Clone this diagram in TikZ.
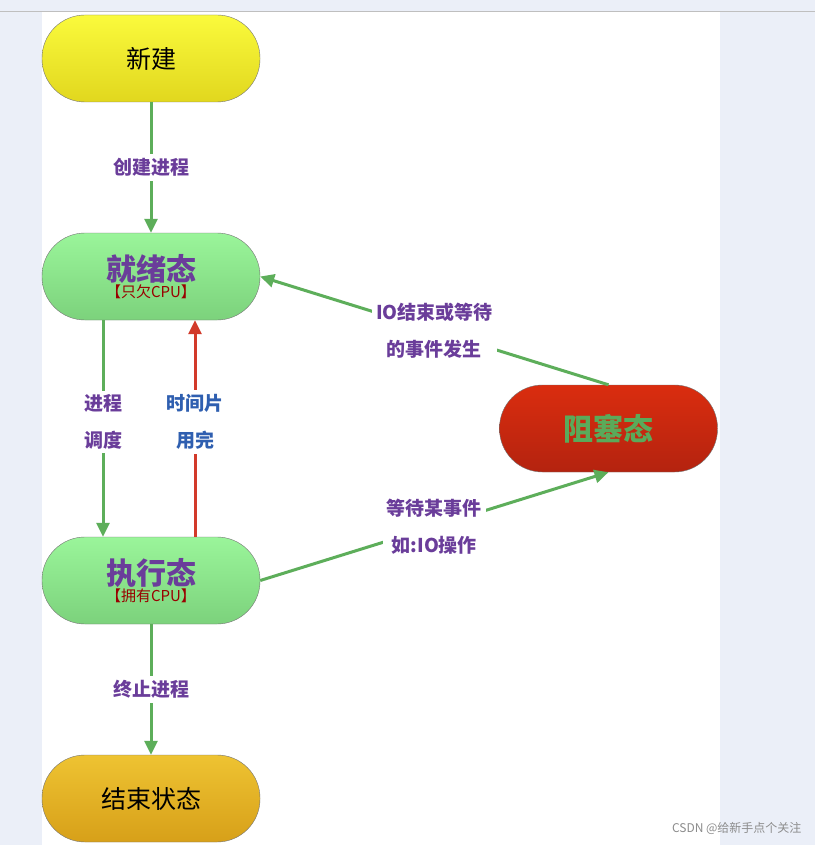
\documentclass[tikz,border=0pt]{standalone}
\usepackage{fontspec}
\setmainfont{Noto Sans CJK SC}
\usetikzlibrary{arrows.meta}
\definecolor{bgc}{HTML}{EBEFF8}
\definecolor{lblc}{HTML}{6A3D9A}
\definecolor{bluec}{HTML}{2F5FB0}
\definecolor{grn}{HTML}{5DAE5A}
\definecolor{redl}{HTML}{D23A2A}
\tikzset{
 st/.style={draw=black!55, rounded corners=43pt, minimum width=218pt, minimum height=87pt, inner sep=0pt, align=center},
 grfill/.style={top color=HTML9AF59A, bottom color=HTML7CD27C},
 con/.style={line width=3pt, -{Triangle[length=14pt,width=13pt]}},
 lbl/.style={fill=white, text=lblc, font=\bfseries\fontsize{19}{37}\selectfont, align=center, inner sep=4pt},
}
\definecolor{HTML9AF59A}{HTML}{9AF59A}
\definecolor{HTML7CD27C}{HTML}{7CD27C}
\begin{document}
\begin{tikzpicture}[x=1pt,y=-1pt]
\useasboundingbox (0,0) rectangle (815,845);
\fill[bgc] (0,0) rectangle (815,845);
\fill[white] (42,12) rectangle (720,845);
\draw[black!25] (0,11) -- (815,11);
\node[st, top color={rgb,255:red,250;green,250;blue,60}, bottom color={rgb,255:red,225;green,215;blue,30}, font=\fontsize{25}{28}\selectfont] (new) at (151,58.5) {新建};
\node[st, grfill] (ready) at (151,276.5) {\textbf{\fontsize{30}{32}\selectfont\color{lblc}就绪态}\\[0pt]{\fontsize{15}{18}\selectfont\color{red!60!black}【只欠CPU】}};
\node[st, grfill] (run) at (151,580.5) {\textbf{\fontsize{30}{32}\selectfont\color{lblc}执行态}\\[0pt]{\fontsize{15}{18}\selectfont\color{red!60!black}【拥有CPU】}};
\node[st, top color={rgb,255:red,238;green,195;blue,50}, bottom color={rgb,255:red,215;green,160;blue,25}, font=\fontsize{25}{28}\selectfont] (end) at (151,798.5) {结束状态};
\node[st, top color={rgb,255:red,218;green,45;blue,15}, bottom color={rgb,255:red,180;green,35;blue,15}, font=\bfseries\fontsize{30}{32}\selectfont, text={rgb,255:red,90;green,170;blue,90}] (block) at (608.5,428.5) {阻塞态};
\draw[con, grn] (new) -- node[lbl]{创建进程} (ready);
\draw[con, grn] (run) -- node[lbl]{终止进程} (end);
\draw[con, grn] (ready.south -| 103,0) -- node[lbl, pos=0.47]{进程\\调度} (run.north -| 103,0);
\draw[con, redl] (run.north -| 195,0) -- node[lbl, pos=0.53, text=bluec]{时间片\\用完} (ready.south -| 195,0);
\draw[con, grn] (run.east) -- node[lbl, pos=0.5]{等待某事件\\如:IO操作} (block.south);
\draw[con, grn] (block.north) -- node[lbl, pos=0.5]{IO结束或等待\\的事件发生} (ready.east);
\node[text=black!45, font=\fontsize{12}{14}\selectfont, anchor=east] (wm) at (805,828) {CSDN @给新手点个关注};
\end{tikzpicture}
\end{document}
